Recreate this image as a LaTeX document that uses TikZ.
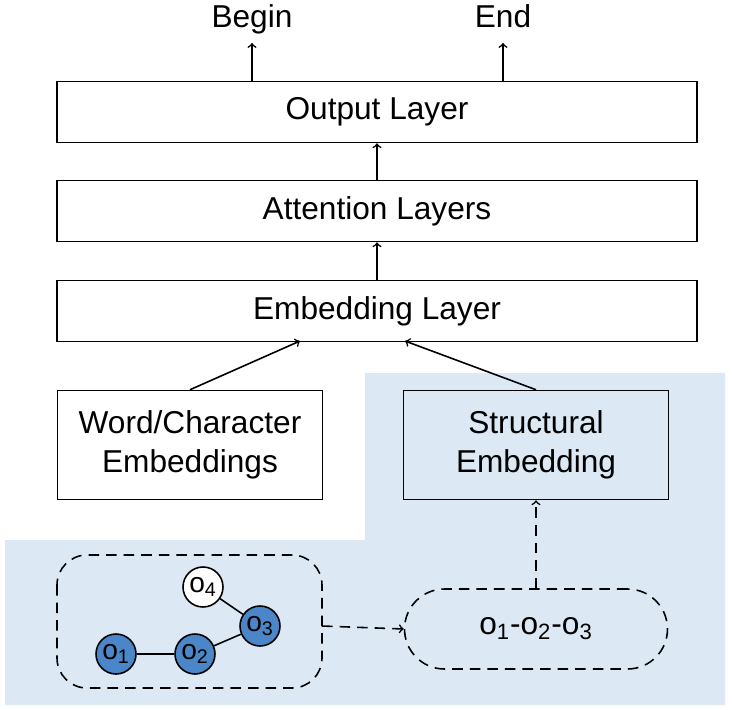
\documentclass[tikz,border=0pt]{standalone}
\usepackage{fontspec}
\setmainfont{Liberation Sans}
\usetikzlibrary{positioning}
\definecolor{lightblue}{RGB}{220,232,244}
\definecolor{nodeblue}{RGB}{74,134,200}
\begin{document}
\begin{tikzpicture}[x=0.02cm,y=-0.02cm, line width=0.9pt,
  layer/.style={draw, fill=white, minimum width=12.8cm, minimum height=1.22cm, font=\fontsize{18}{21}\selectfont},
  emb/.style={draw, fill=white, minimum width=5.3cm, minimum height=2.18cm, align=center, font=\fontsize{18}{22}\selectfont},
  obj/.style={circle, draw, inner sep=0pt, minimum size=0.8cm, font=\fontsize{16}{18}\selectfont},
  longdash/.style={dash pattern=on 6pt off 4pt},
  arr/.style={->, >=to}
]
\useasboundingbox (0,0) rectangle (732,709);
\fill[lightblue] (365,373) -- (725,373) -- (725,705) -- (5,705) -- (5,540) -- (365,540) -- cycle;

\node[layer] (out) at (377,112) {Output Layer};
\node[layer] (att) at (377,211) {Attention Layers};
\node[layer] (embl) at (377,311) {Embedding Layer};
\node[emb] (word) at (190,445) {Word/Character\\Embeddings};
\node[emb, fill=lightblue] (struct) at (536,445) {Structural\\Embedding};

\node[font=\fontsize{18}{21}\selectfont, anchor=base] (begin) at (252,28) {Begin};
\node[font=\fontsize{18}{21}\selectfont, anchor=base] (end) at (503,28) {End};
\coordinate (bsrc) at (252,81);
\coordinate (esrc) at (503,81);

\draw[longdash, rounded corners=0.6cm] (57,555) rectangle (322,688);
\coordinate (grp) at (322,626);
\node[draw, longdash, rounded corners=0.8cm, minimum width=5.26cm, minimum height=1.6cm,
  font=\fontsize{18}{21}\selectfont] (path) at (536,629) {o\textsubscript{1}-o\textsubscript{2}-o\textsubscript{3}};

\node[obj, fill=white] (o4) at (203,587) {o\textsubscript{4}};
\node[obj, fill=nodeblue] (o3) at (260,626) {o\textsubscript{3}};
\node[obj, fill=nodeblue] (o1) at (116,654) {o\textsubscript{1}};
\node[obj, fill=nodeblue] (o2) at (195,654) {o\textsubscript{2}};
\draw (o4) -- (o3);
\draw (o1) -- (o2);
\draw (o2) -- (o3);

\draw[arr] (bsrc) -- (252,43);
\draw[arr] (esrc) -- (503,43);
\draw[arr] (att) -- (out);
\draw[arr] (embl) -- (att);
\draw[arr] (word.north) -- (300,341);
\draw[arr] (struct.north) -- (405,341);
\draw[arr, longdash] (grp) -- (path.west);
\draw[arr, longdash] (path) -- (struct);
\end{tikzpicture}
\end{document}
